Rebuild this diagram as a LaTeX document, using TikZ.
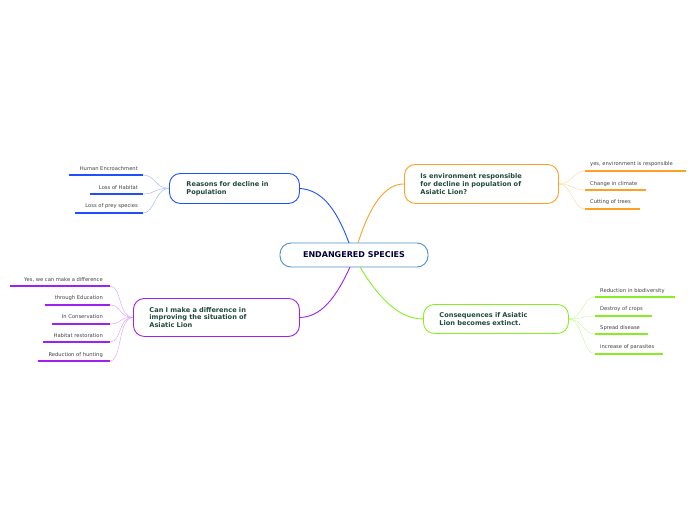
\documentclass[tikz,border=0pt]{standalone}
\usepackage{fontspec}
\setmainfont{DejaVu Sans}
\begin{document}
\begin{tikzpicture}[x=1pt,y=-1pt,
  mainbox/.style={draw,line width=0.9pt,rounded corners=11pt,minimum height=#1,align=left,font=\fontsize{6.6}{7.6}\selectfont\bfseries,text=textg,anchor=north west,inner xsep=0pt},
  leaf/.style={font=\fontsize{5.2}{6}\selectfont,text=black!75,inner sep=0pt},
  ul/.style={line width=1.2pt},
  br/.style={line width=0.4pt}]
\definecolor{textg}{HTML}{1F4A3A}
\definecolor{cblue}{HTML}{1E50FF}
\definecolor{corange}{HTML}{FFA020}
\definecolor{cgreen}{HTML}{88EE22}
\definecolor{cpurple}{HTML}{A020F0}
\definecolor{csteel}{HTML}{4A90C8}
\useasboundingbox (0,0) rectangle (696,520);
% center
\node[draw=csteel,line width=0.9pt,rounded corners=11pt,minimum width=148pt,minimum height=24pt,font=\fontsize{8}{9}\selectfont\bfseries,text=blue!20!black] (c) at (354,255) {ENDANGERED SPECIES};
% main boxes
\node[mainbox=30pt,draw=cblue,text width=130pt] (r) at (169,173) {\hspace*{17pt}Reasons for decline in\\\hspace*{17pt}Population};
\node[mainbox=39pt,draw=corange,text width=154pt] (e) at (404,164) {\hspace*{16pt}Is environment responsible\\\hspace*{16pt}for decline in population of\\\hspace*{16pt}Asiatic Lion?};
\node[mainbox=29pt,draw=cgreen,text width=145pt] (q) at (423,304) {\hspace*{16pt}Consequences if Asiatic\\\hspace*{16pt}Lion becomes extinct.};
\node[mainbox=38pt,draw=cpurple,text width=166pt] (k) at (133,298) {\hspace*{16pt}Can I make a difference in\\\hspace*{16pt}improving the situation of\\\hspace*{16pt}Asiatic Lion};
% main connectors
\coordinate (c1) at (349,243); \coordinate (c2) at (358,243);
\coordinate (c3) at (350,267); \coordinate (c4) at (360,267);
\draw[cblue,line width=0.9pt] (c1) .. controls (335,205) and (320,190) .. (r.east);
\draw[corange,line width=0.9pt] (c2) .. controls (370,205) and (385,184) .. (e.west);
\draw[cpurple,line width=0.9pt] (c3) .. controls (335,300) and (320,317) .. (k.east);
\draw[cgreen,line width=0.9pt] (c4) .. controls (380,300) and (400,319) .. (q.west);
% left leaves: Reasons
\foreach \n/\t/\ty/\ly/\lx in {r1/Human Encroachment/169/175/69, r2/Loss of Habitat/188/194/90, r3/Loss of prey species/206/213/75}{
  \node[leaf,anchor=east] (\n) at (138,\ty) {\t};
  \coordinate (\n a) at (\lx,\ly); \coordinate (\n b) at (143,\ly);
  \draw[ul,cblue] (\n a) -- (\n b);
  \draw[br,cblue!45] (\n b) .. controls (155,\ly) and (155,188) .. (r.west);
}
% Can I leaves
\foreach \n/\t/\ty/\ly/\lx in {k1/{Yes, we can make a difference}/280/286/10, k2/through Education/298/305/45, k3/In Conservation/317/324/52, k4/Habitat restoration/336/342/43, k5/Reduction of hunting/355/361/38}{
  \node[leaf,anchor=east] (\n) at (103,\ty) {\t};
  \coordinate (\n a) at (\lx,\ly); \coordinate (\n b) at (110,\ly);
  \draw[ul,cpurple] (\n a) -- (\n b);
  \draw[br,cpurple!45] (\n b) .. controls (122,\ly) and (118,317) .. (k.west);
}
% Env leaves
\foreach \n/\t/\ty/\ly/\lx in {e1/{yes, environment is responsible}/164/171/686, e2/Change in climate/184/190/646, e3/Cutting of trees/202/209/640}{
  \node[leaf,anchor=west] (\n) at (590,\ty) {\t};
  \coordinate (\n a) at (585,\ly); \coordinate (\n b) at (\lx,\ly);
  \draw[ul,corange] (\n a) -- (\n b);
  \draw[br,corange!45] (e.east) .. controls (572,184) and (573,\ly) .. (\n a);
}
% Consequence leaves
\foreach \n/\t/\ty/\ly/\lx in {q1/Reduction in biodiversity/291/297/675, q2/Destroy of crops/309/316/652, q3/Spread disease/328/334/648, q4/increase of parasites/347/354/663}{
  \node[leaf,anchor=west] (\n) at (600,\ty) {\t};
  \coordinate (\n a) at (595,\ly); \coordinate (\n b) at (\lx,\ly);
  \draw[ul,cgreen] (\n a) -- (\n b);
  \draw[br,cgreen!50] (q.east) .. controls (582,319) and (583,\ly) .. (\n a);
}
\end{tikzpicture}
\end{document}
